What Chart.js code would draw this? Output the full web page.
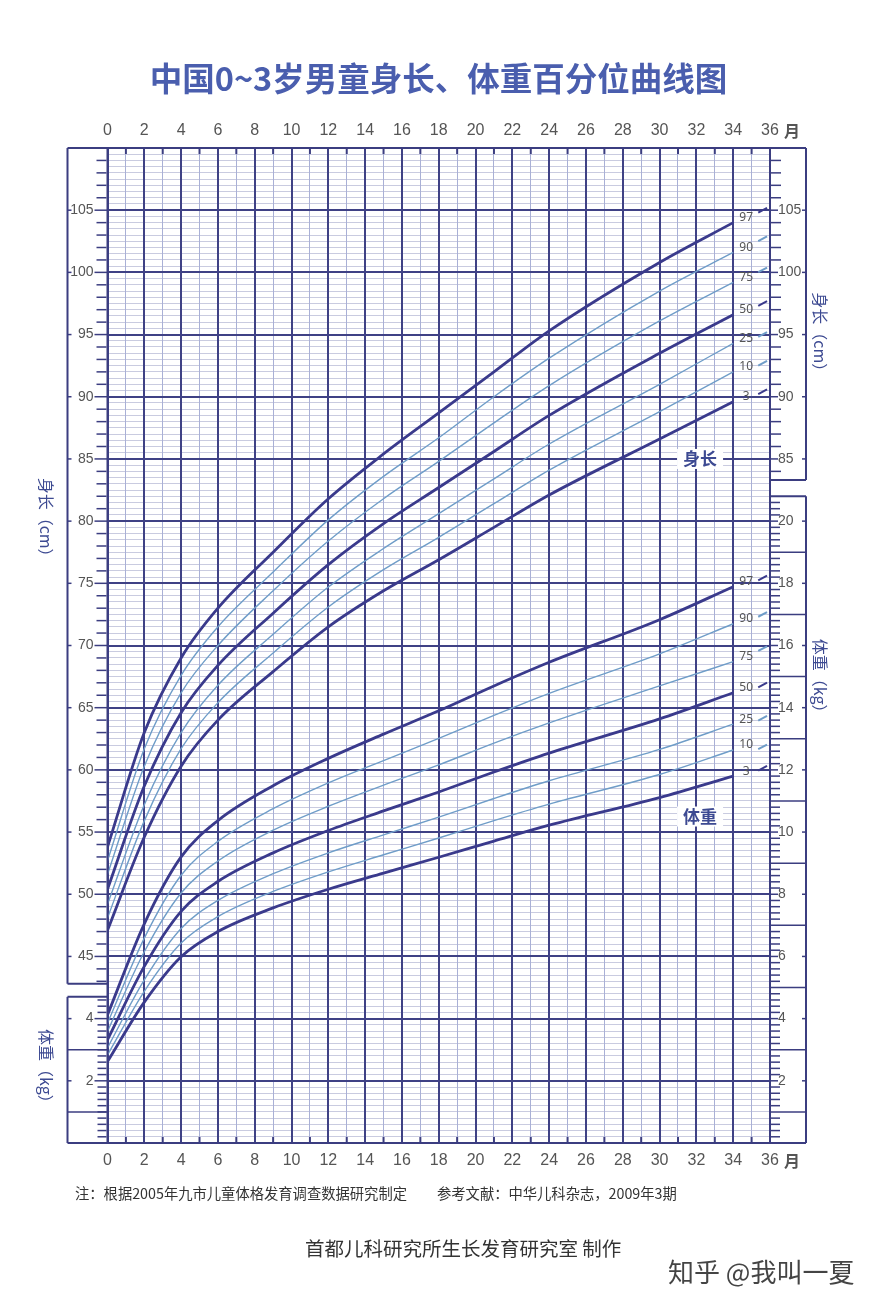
<!DOCTYPE html>
<html>
<head>
<meta charset="utf-8">
<script src="https://cdn.jsdelivr.net/npm/chart.js@4.4.1/dist/chart.umd.min.js"></script>
<style>
  body { margin: 0; background: #fff; font-family: "Noto Sans CJK SC", sans-serif; }
  #wrap { position: relative; width: 877px; height: 1305px; overflow: hidden; }
  #growth { position: absolute; left: 0; top: 0; }
  .txt { position: absolute; white-space: nowrap; }
</style>
</head>
<body>
<div id="wrap">
  <canvas id="growth" width="877" height="1305"></canvas>
  <div class="txt" style="left:0;width:877px;text-align:center;top:53px;font-size:32.5px;font-weight:bold;color:#4a5eae;">中国0~3岁男童身长、体重百分位曲线图</div>
  <div class="txt" style="left:75px;top:1182px;font-size:14.3px;color:#333;">注：根据2005年九市儿童体格发育调查数据研究制定</div>
  <div class="txt" style="left:437px;top:1182px;font-size:14.3px;color:#333;">参考文献：中华儿科杂志，2009年3期</div>
  <div class="txt" style="left:305px;top:1233px;font-size:19.5px;color:#333;">首都儿科研究所生长发育研究室 制作</div>
  <div class="txt" style="left:668px;top:1252px;font-size:26px;color:#444;">知乎 @我叫一夏</div>
</div>
<script>
// age in months
const months = [0, 2, 4, 6, 9, 12, 15, 18, 21, 24, 30, 34];
const percentiles = ["3", "10", "25", "50", "75", "90", "97"];

// length (cm)
const len3  = [47.1, 54.6, 60.3, 64.0, 67.9, 71.5, 74.4, 76.9, 79.5, 82.1, 86.6, 89.6];
const len10 = [48.1, 55.9, 61.7, 65.4, 69.4, 73.1, 76.1, 78.7, 81.4, 84.1, 88.8, 92.0];
const len25 = [49.2, 57.2, 63.0, 66.8, 70.9, 74.7, 77.8, 80.6, 83.4, 86.2, 91.0, 94.3];
const len50 = [50.4, 58.7, 64.6, 68.4, 72.6, 76.5, 79.8, 82.7, 85.6, 88.5, 93.5, 96.6];
const len75 = [51.6, 60.3, 66.2, 70.0, 74.4, 78.4, 81.8, 84.8, 87.9, 90.9, 96.1, 99.2];
const len90 = [52.7, 61.7, 67.6, 71.5, 75.9, 80.1, 83.6, 86.7, 90.0, 93.1, 98.5, 101.6];
const len97 = [53.8, 63.0, 69.0, 73.0, 77.5, 81.8, 85.4, 88.7, 92.0, 95.3, 100.8, 104.0];

// weight (kg)
const wt3  = [2.62, 4.53, 5.99, 6.80, 7.56, 8.16, 8.68, 9.19, 9.71, 10.22, 11.11, 11.80];
const wt10 = [2.83, 4.88, 6.43, 7.28, 8.09, 8.72, 9.27, 9.81, 10.37, 10.90, 11.85, 12.64];
const wt25 = [3.06, 5.25, 6.90, 7.80, 8.66, 9.33, 9.91, 10.48, 11.08, 11.65, 12.66, 13.47];
const wt50 = [3.32, 5.68, 7.45, 8.41, 9.33, 10.05, 10.68, 11.29, 11.93, 12.54, 13.64, 14.48];
const wt75 = [3.59, 6.15, 8.04, 9.07, 10.06, 10.83, 11.51, 12.16, 12.86, 13.51, 14.70, 15.48];
const wt90 = [3.85, 6.59, 8.61, 9.70, 10.75, 11.58, 12.30, 13.01, 13.75, 14.46, 15.73, 16.70];
const wt97 = [4.12, 7.05, 9.20, 10.37, 11.49, 12.37, 13.15, 13.90, 14.70, 15.46, 16.83, 17.89];

// little marks near the right edge (36 months)
const markAge = 35.6;
const lenMarks = [90.4, 92.7, 95.0, 97.5, 100.2, 102.7, 105.0];
const wtMarks  = [12.05, 12.74, 13.66, 14.73, 15.9, 17.0, 18.17];

// tick labels
const ageTicks = [0, 2, 4, 6, 8, 10, 12, 14, 16, 18, 20, 22, 24, 26, 28, 30, 32, 34, 36];
const lenTicksLeft = [45, 50, 55, 60, 65, 70, 75, 80, 85, 90, 95, 100, 105];
const lenTicksRight = [85, 90, 95, 100, 105];
const wtTicksLeft = [2, 4];
const wtTicksRight = [2, 4, 6, 8, 10, 12, 14, 16, 18, 20];

const DARK = "#3a3a8c";
const LIGHT = "#6f9dc8";
const GRID_MAJOR = "#3f4185";
const GRID_V = "#a9b0d6";
const GRID_H = "#c9cbe0";
const FRAME = "#3b3d80";
const NAVY = "#3d4a92";

// weight shares the canvas with length: w kg sits where 30 + 2.5w cm sits
const kgToCm = w => 30 + 2.5 * w;

const lenSeries = [len3, len10, len25, len50, len75, len90, len97];
const wtSeries = [wt3, wt10, wt25, wt50, wt75, wt90, wt97];
const isMain = i => i === 0 || i === 3 || i === 6;

const datasets = [];
lenSeries.forEach((s, i) => datasets.push({
    type: "line", label: "len" + percentiles[i], yAxisID: "y",
    data: months.map((m, j) => ({ x: m, y: s[j] })),
    borderColor: isMain(i) ? DARK : LIGHT, borderWidth: isMain(i) ? 2.8 : 1.4,
    pointRadius: 0, cubicInterpolationMode: "monotone", curve: true
}));
wtSeries.forEach((s, i) => datasets.push({
    type: "line", label: "wt" + percentiles[i], yAxisID: "yw",
    data: months.map((m, j) => ({ x: m, y: s[j] })),
    borderColor: isMain(i) ? DARK : LIGHT, borderWidth: isMain(i) ? 2.8 : 1.4,
    pointRadius: 0, cubicInterpolationMode: "monotone", curve: true
}));
datasets.push({
    type: "scatter", label: "lenMarks", yAxisID: "y",
    data: lenMarks.map(v => ({ x: markAge, y: v })),
    pointStyle: "line", pointRadius: 5, rotation: -28, borderWidth: 2,
    borderColor: lenMarks.map((v, i) => isMain(i) ? DARK : LIGHT)
});
datasets.push({
    type: "scatter", label: "wtMarks", yAxisID: "yw",
    data: wtMarks.map(v => ({ x: markAge, y: v })),
    pointStyle: "line", pointRadius: 5, rotation: -28, borderWidth: 2,
    borderColor: wtMarks.map((v, i) => isMain(i) ? DARK : LIGHT)
});

const ageLabel = v => ageTicks.includes(v) ? String(v) : "";

const deco = {
    id: "deco",
    afterDraw(chart) {
        const { ctx, chartArea: a, scales } = chart;
        const y = scales.y, yw = scales.yw, x = scales.x;
        const L = a.left, R = a.right, T = a.top, B = a.bottom;
        const oL = L - 40, oR = R + 36;
        const line = (x1, y1, x2, y2) => { ctx.beginPath(); ctx.moveTo(x1, y1); ctx.lineTo(x2, y2); ctx.stroke(); };
        ctx.save();

        // frames
        ctx.strokeStyle = FRAME;
        ctx.lineWidth = 2;
        line(oL, T, oR, T);
        line(oL, B, oR, B);
        line(L, T, L, B);
        line(R, T, R, B);
        const lBoxLow = y.getPixelForValue(42.8), lwBoxTop = yw.getPixelForValue(4.7);
        line(oL, T, oL, lBoxLow); line(oL, lBoxLow, L, lBoxLow);
        line(oL, lwBoxTop, L, lwBoxTop); line(oL, lwBoxTop, oL, B);
        const rBoxLow = y.getPixelForValue(83.3), rwBoxTop = yw.getPixelForValue(20.8);
        line(oR, T, oR, rBoxLow); line(R, rBoxLow, oR, rBoxLow);
        line(R, rwBoxTop, oR, rwBoxTop); line(oR, rwBoxTop, oR, B);
        ctx.lineWidth = 1.5;
        for (let k = 1; k <= 19; k += 2) { const p = yw.getPixelForValue(k); line(R, p, oR, p); }
        for (let k = 1; k <= 3; k += 2) { const p = yw.getPixelForValue(k); line(oL, p, L, p); }

        // axis ticks
        ctx.lineWidth = 1.5;
        for (let c = 43; c <= 109; c++) {
            const p = y.getPixelForValue(c);
            if (c % 5 === 0) { line(L - 13, p, L, p); line(oL, p, oL + 4, p); }
            else line(L - 11, p, L - 1, p);
        }
        for (let c = 84; c <= 109; c++) {
            const p = y.getPixelForValue(c);
            if (c % 5 === 0) { line(R, p, R + 8, p); line(oR - 4, p, oR, p); }
            else line(R + 1, p, R + 11, p);
        }
        for (let k = 2; k <= 46; k += 2) {
            const p = yw.getPixelForValue(k / 10);
            if (k % 20 === 0) { line(L - 13, p, L, p); line(oL, p, oL + 4, p); }
            else line(L - 10, p, L - 1, p);
        }
        for (let k = 2; k <= 206; k += 2) {
            const p = yw.getPixelForValue(k / 10);
            if (k % 20 === 0) { line(R, p, R + 8, p); line(oR - 4, p, oR, p); }
            else if (k % 10 !== 0) line(R + 1, p, R + 10, p);
        }
        ctx.lineWidth = 2;
        for (let m = 1; m < 36; m += 2) {
            const p = x.getPixelForValue(m);
            line(p, T, p, T + 6);
            line(p, B - 6, p, B);
        }

        // percentile labels at curve ends
        ctx.fillStyle = "#555";
        ctx.font = "12px 'Noto Sans'";
        ctx.textAlign = "center";
        ctx.textBaseline = "middle";
        chart.data.datasets.forEach((ds, i) => {
            if (!ds.curve) return;
            const pts = chart.getDatasetMeta(i).data;
            const last = pts[pts.length - 1];
            ctx.fillText(percentiles[i % 7], last.x + 13, last.y - 5);
        });

        // month unit
        ctx.font = "bold 16px 'Noto Sans CJK SC'";
        ctx.fillStyle = "#555";
        ctx.fillText("月", x.getPixelForValue(36) + 22, T - 17);
        ctx.fillText("月", x.getPixelForValue(36) + 22, B + 18);

        // inline names
        ctx.font = "bold 17px 'Noto Sans CJK SC'";
        const names = [["身长", y.getPixelForValue(85)], ["体重", yw.getPixelForValue(10.5)]];
        names.forEach(([t, p]) => {
            const cx = x.getPixelForValue(32.2);
            ctx.fillStyle = "#fff";
            ctx.fillRect(cx - 23, p - 10, 46, 20);
            ctx.fillStyle = NAVY;
            ctx.fillText(t, cx, p);
        });

        // axis titles, rotated
        ctx.font = "16px 'Noto Sans CJK SC'";
        ctx.fillStyle = NAVY;
        const vtext = (t, cx, cy) => {
            ctx.save(); ctx.translate(cx, cy); ctx.rotate(Math.PI / 2);
            ctx.fillText(t, 0, 0); ctx.restore();
        };
        vtext("身长（cm）", oL - 21, y.getPixelForValue(80.0));
        vtext("体重（kg）", oL - 21, yw.getPixelForValue(2.35));
        vtext("身长（cm）", oR + 14, y.getPixelForValue(94.9));
        vtext("体重（kg）", oR + 14, yw.getPixelForValue(14.9));
        ctx.restore();
    }
};

new Chart(document.getElementById("growth").getContext("2d"), {
    data: { datasets: datasets },
    options: {
        responsive: false,
        animation: false,
        devicePixelRatio: 1,
        layout: { padding: { left: 67.5, right: 71, top: 108, bottom: 122 } },
        plugins: { legend: { display: false }, tooltip: { enabled: false } },
        scales: {
            x: {
                type: "linear", position: "bottom", min: 0, max: 36,
                afterFit: s => { s.height = 40; },
                border: { display: false },
                grid: {
                    z: -2,
                    drawTicks: false,
                    color: c => c.tick.value % 2 === 0 ? GRID_MAJOR : GRID_V,
                    lineWidth: c => c.tick.value % 2 === 0 ? 2 : 1
                },
                ticks: { stepSize: 1, autoSkip: false, maxRotation: 0, padding: 8, color: "#555",
                         font: { size: 16 }, callback: ageLabel }
            },
            x2: {
                type: "linear", position: "top", min: 0, max: 36,
                afterFit: s => { s.height = 40; },
                border: { display: false },
                grid: { display: false, drawTicks: false },
                ticks: { stepSize: 1, autoSkip: false, maxRotation: 0, padding: 8, color: "#555",
                         font: { size: 16 }, callback: ageLabel }
            },
            y: {
                type: "linear", position: "left", min: 30, max: 110,
                afterFit: s => { s.width = 40; },
                border: { display: false },
                grid: {
                    z: -3,
                    drawTicks: false,
                    color: c => c.tick.value % 5 === 0 ? "rgba(0,0,0,0)" : GRID_H,
                    lineWidth: 1
                },
                ticks: {
                    stepSize: 0.5, autoSkip: false, padding: 14, color: "#555", font: { size: 14 },
                    callback: v => {
                        if (lenTicksLeft.includes(v)) return String(v);
                        const w = wtTicksLeft.find(k => kgToCm(k) === v);
                        return w !== undefined ? String(w) : "";
                    }
                }
            },
            yMajor: {
                type: "linear", position: "left", min: 30, max: 110,
                afterFit: s => { s.width = 0; },
                border: { display: false },
                grid: { z: -1, drawTicks: false, color: GRID_MAJOR, lineWidth: 2 },
                ticks: { display: false, stepSize: 5 }
            },
            y2: {
                type: "linear", position: "right", min: 30, max: 110,
                afterFit: s => { s.width = 36; },
                border: { display: false },
                grid: { display: false, drawTicks: false },
                ticks: {
                    stepSize: 0.5, autoSkip: false, padding: 8, color: "#555", font: { size: 14 },
                    callback: v => {
                        if (lenTicksRight.includes(v)) return String(v);
                        const w = wtTicksRight.find(k => kgToCm(k) === v);
                        return w !== undefined ? String(w) : "";
                    }
                }
            },
            yw: { type: "linear", display: false, min: 0, max: 32 }
        }
    },
    plugins: [deco]
});
</script>
</body>
</html>
